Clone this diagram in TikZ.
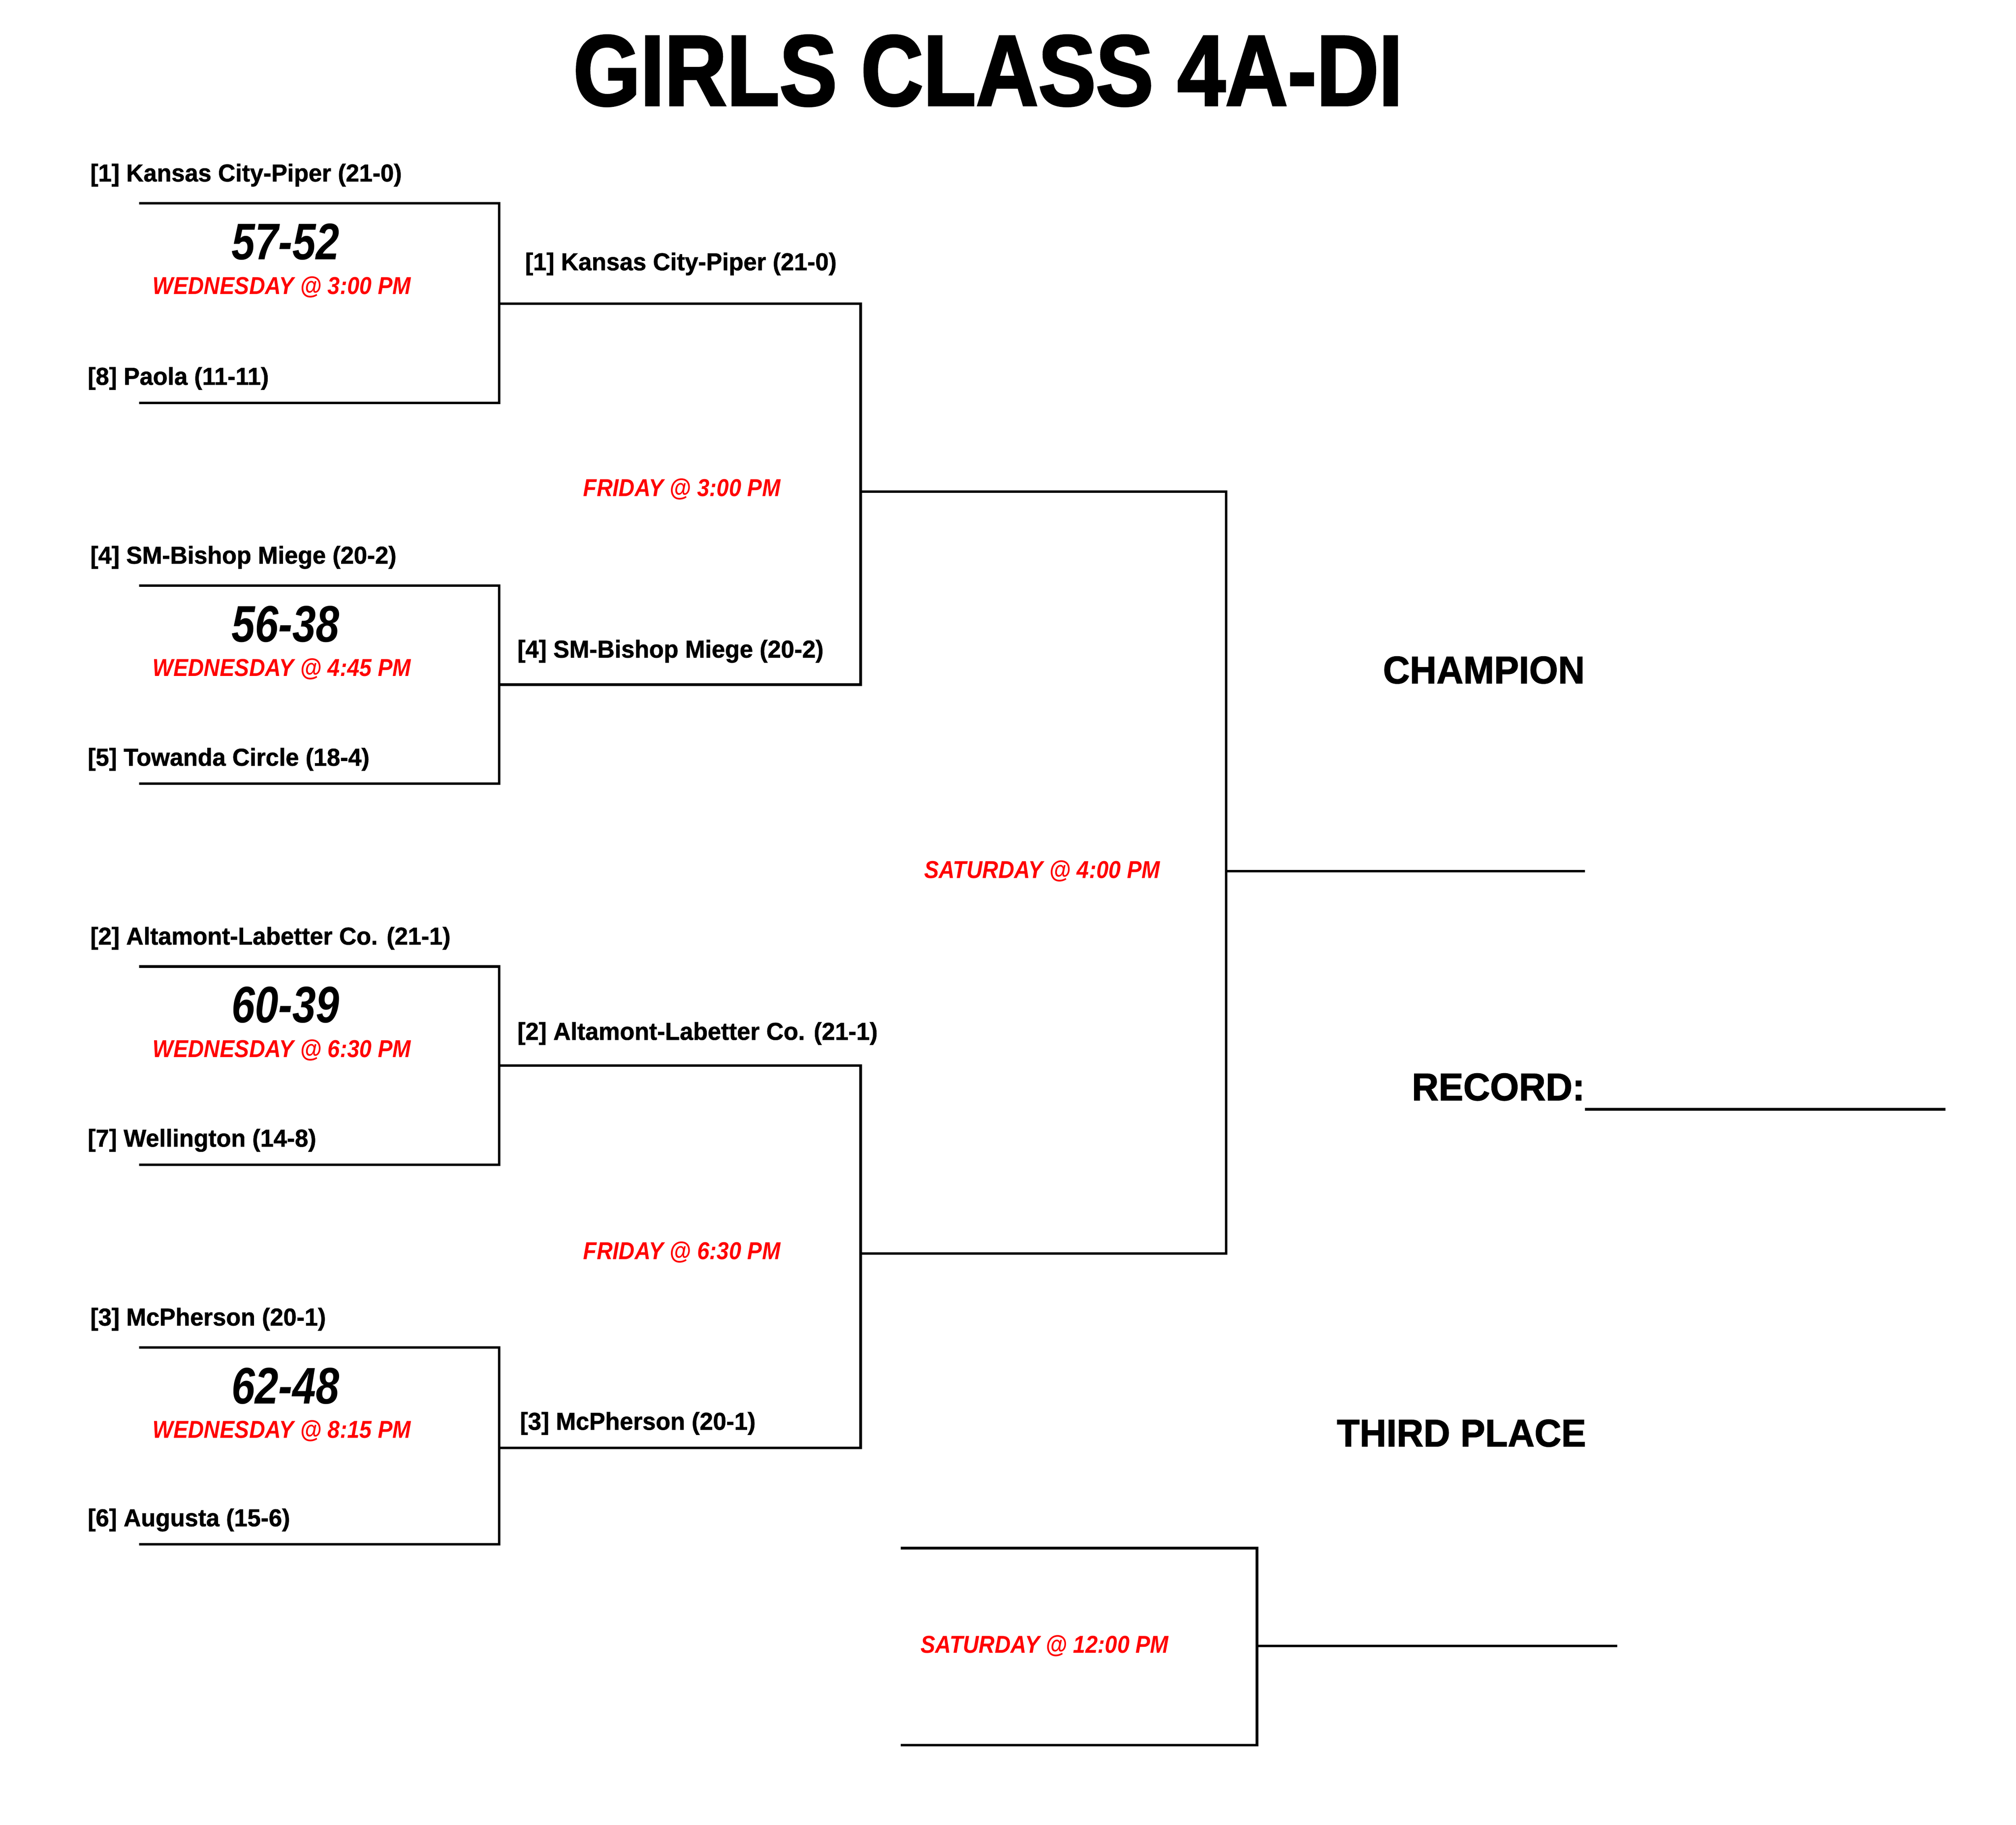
\documentclass[tikz,border=0pt]{standalone}
\usepackage{fontspec}
\setmainfont{Liberation Sans}[FakeStretch=0.82]
\newfontfamily\teamfont{Liberation Sans}[FakeStretch=0.98,FakeBold=1.2]
\newfontfamily\headfont{Liberation Sans}[FakeStretch=0.96,FakeBold=1.5]
\newfontfamily\whenfont{Liberation Sans}[FakeStretch=0.9]
\newfontfamily\titlefont{Liberation Sans}[FakeStretch=0.86,FakeBold=2]
\tikzset{
  team/.style={anchor=base west,font=\teamfont\fontsize{19}{20}\selectfont\bfseries,inner sep=0pt},
  score/.style={font=\fontsize{40}{42}\selectfont\bfseries\itshape,inner sep=0pt},
  when/.style={text=red,font=\whenfont\fontsize{19}{20}\selectfont\bfseries\itshape,inner sep=0pt},
  head/.style={anchor=base east,font=\headfont\fontsize{30}{32}\selectfont\bfseries,inner sep=0pt},
  bline/.style={line width=2pt}
}
\begin{document}
\begin{tikzpicture}[x=1pt,y=-1pt]
\useasboundingbox (0,0) rectangle (1567,1418);
\node[font=\titlefont\fontsize{78}{80}\selectfont\bfseries] (title) at (768,55) {GIRLS CLASS 4A-DI};

% first round
\foreach \t/\b/\sc/\tm/\top/\bot [count=\i] in {
  158/313/57-52/3:00/{[1] Kansas City-Piper (21-0)}/{[8] Paola (11-11)},
  455/609/56-38/4:45/{[4] SM-Bishop Miege (20-2)}/{[5] Towanda Circle (18-4)},
  751/905/60-39/6:30/{[2] Altamont-Labetter Co. (21-1)}/{[7] Wellington (14-8)},
  1047/1200/62-48/8:15/{[3] McPherson (20-1)}/{[6] Augusta (15-6)}}{
  \coordinate (a\i) at (108,\t);
  \coordinate (b\i) at (108,\b);
  \draw[bline] (a\i) -- ++(280,0) |- (b\i);
  \node[team] (ta\i) at (70,\t-17) {\top};
  \node[team] (tb\i) at (68,\b-14) {\bot};
  \node[score] (s\i) at (222,\t+30) {\sc};
  \node[when] (w\i) at (219,\t+65) {WEDNESDAY @ \tm\ PM};
}

% semifinals
\coordinate (m1) at (388,236);
\coordinate (m2) at (388,532);
\coordinate (m3) at (388,828);
\coordinate (m4) at (388,1125);
\draw[bline] (m1) -- (669,236) |- (m2);
\draw[bline] (m3) -- (669,828) |- (m4);
\node[team] (sa1) at (408,210) {[1] Kansas City-Piper (21-0)};
\node[team] (sa2) at (402,511) {[4] SM-Bishop Miege (20-2)};
\node[team] (sa3) at (402,808) {[2] Altamont-Labetter Co. (21-1)};
\node[team] (sa4) at (404,1111) {[3] McPherson (20-1)};
\node[when] (f1) at (530,380) {FRIDAY @ 3:00 PM};
\node[when] (f2) at (530,973) {FRIDAY @ 6:30 PM};

% final
\coordinate (n1) at (669,382);
\coordinate (n2) at (669,974);
\draw[bline] (n1) -- (953,382) |- (n2);
\coordinate (champ) at (1232,677);
\draw[bline] (953,677) -- (champ);
\node[when] (sat) at (810,677) {SATURDAY @ 4:00 PM};
\node[head] (ch) at (1232,531) {CHAMPION};
\node[head] (rec) at (1232,855) {RECORD:};
\coordinate (r1) at (1232,862);
\coordinate (r2) at (1512,862);
\draw[bline] (r1) -- (r2);

% third place
\node[head] (tp) at (1233,1124) {THIRD PLACE};
\coordinate (c1) at (700,1203);
\coordinate (c2) at (700,1356);
\draw[bline] (c1) -- (977,1203) |- (c2);
\coordinate (third) at (1257,1279);
\draw[bline] (977,1279) -- (third);
\node[when] (sat2) at (812,1279) {SATURDAY @ 12:00 PM};
\end{tikzpicture}
\end{document}
